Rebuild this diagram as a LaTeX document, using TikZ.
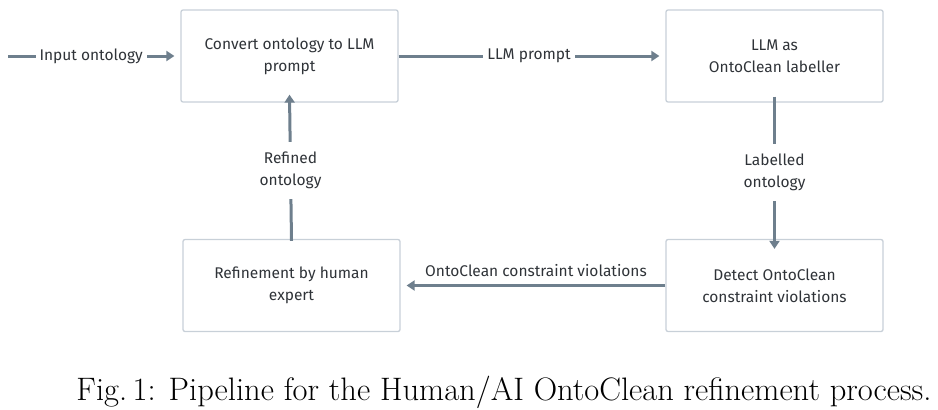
\documentclass[tikz,border=0pt]{standalone}
\usepackage{fontspec}
\newfontfamily\diag{Fira Sans}
\usetikzlibrary{arrows.meta}
\definecolor{arr}{HTML}{6E7F8D}
\definecolor{bd}{HTML}{C8D0D8}
\definecolor{tx}{HTML}{2F3338}
\begin{document}
\begin{tikzpicture}[x=1pt,y=-1pt,
  box/.style={draw=bd,line width=1.3pt,rounded corners=2pt,minimum width=217pt,minimum height=92pt,align=center,font=\diag\fontsize{15.5}{22}\selectfont,text=tx,inner sep=0pt},
  con/.style={draw=arr,line width=3pt,-{Triangle[length=8pt,width=10pt]}},
  lab/.style={font=\diag\fontsize{15.5}{22}\selectfont,text=tx,fill=white,inner xsep=4pt,inner ysep=10pt,align=center}]
\useasboundingbox (0,0) rectangle (938,410);
\node[box] (a) at (289.5,56) {Convert ontology to LLM\\prompt};
\node[box] (b) at (774.5,56) {LLM as\\OntoClean labeller};
\node[box] (c) at (774.5,285.5) {Detect OntoClean\\constraint violations};
\node[box] (d) at (291.5,285.5) {Refinement by human\\expert};
\coordinate (s) at (8,56);
\draw[con] (s) -- node[lab,inner ysep=1pt]{Input ontology} ([xshift=-6pt]a.west);
\draw[con] (a.east) -- node[lab,inner ysep=1pt]{LLM prompt} ([xshift=-6pt]b.west);
\draw[con] ([yshift=6pt]b.south) -- node[lab,pos=0.5]{Labelled\\ontology} ([yshift=-10pt]c.north);
\draw[con] (c.west) -- node[lab,fill=none,inner ysep=1pt,above=6pt]{OntoClean constraint violations} ([xshift=6pt]d.east);
\draw[con] ([yshift=-2pt]d.north) -- node[lab,pos=0.48]{Refined\\ontology} ([yshift=8pt]a.south);
\node (cap) at (504,392) {\fontsize{32.5}{38}\selectfont Fig.\,1: Pipeline for the Human/AI OntoClean refinement process.};
\end{tikzpicture}
\end{document}
